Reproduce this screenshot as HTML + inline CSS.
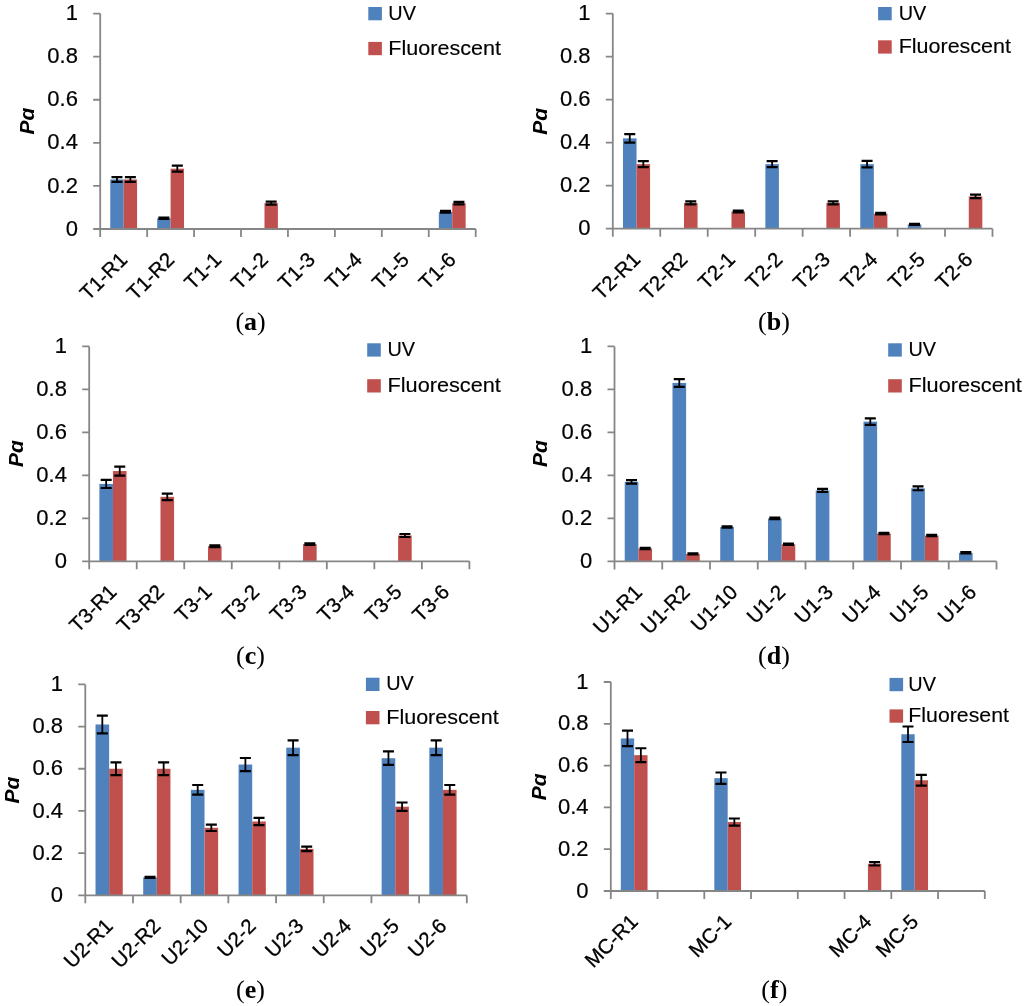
<!DOCTYPE html>
<html><head><meta charset="utf-8"><style>
html,body{margin:0;padding:0;background:#fff;width:1024px;height:1006px;overflow:hidden}
svg{display:block;will-change:transform}
.t{font-family:"Liberation Sans", sans-serif;font-size:21px;fill:#000;stroke:#000;stroke-width:0.15px}
.yl{font-family:"Liberation Sans", sans-serif;font-size:22px;fill:#000;stroke:#000;stroke-width:0.2px}
.xl{font-family:"Liberation Sans", sans-serif;font-size:20.5px;fill:#000;stroke:#000;stroke-width:0.3px}
.pa{font-family:"Liberation Sans", sans-serif;font-size:21px;font-weight:bold;font-style:italic;fill:#000}
.cap{font-family:"Liberation Serif", serif;font-size:26px;fill:#000}
.capb{font-weight:bold}
</style></head><body>
<svg width="1024" height="1006" viewBox="0 0 1024 1006">
<rect width="1024" height="1006" fill="#fff"/>
<rect x="110.26" y="179.46" width="13.41" height="49.54" fill="#4F81BD"/>
<rect x="123.67" y="179.46" width="13.41" height="49.54" fill="#C0504D"/>
<rect x="157.2" y="218.23" width="13.41" height="10.77" fill="#4F81BD"/>
<rect x="170.61" y="168.69" width="13.41" height="60.31" fill="#C0504D"/>
<rect x="264.48" y="203.15" width="13.41" height="25.85" fill="#C0504D"/>
<rect x="438.82" y="211.77" width="13.41" height="17.23" fill="#4F81BD"/>
<rect x="452.23" y="203.15" width="13.41" height="25.85" fill="#C0504D"/>
<path d="M100.2 13.6V229H475.7" fill="none" stroke="#868686" stroke-width="1.8"/>
<path d="M93.2 229H100.2 M93.2 185.92H100.2 M93.2 142.84H100.2 M93.2 99.76H100.2 M93.2 56.68H100.2 M93.2 13.6H100.2 M100.2 229V237 M147.14 229V237 M194.07 229V237 M241.01 229V237 M287.95 229V237 M334.89 229V237 M381.82 229V237 M428.76 229V237 M475.7 229V237" fill="none" stroke="#868686" stroke-width="1.8"/>
<path d="M116.96 177.09V181.83" stroke="#000" stroke-width="1.8"/>
<path d="M111.46 177.09H122.46M111.46 181.83H122.46" stroke="#000" stroke-width="2.2"/>
<path d="M130.37 177.09V181.83" stroke="#000" stroke-width="1.8"/>
<path d="M124.87 177.09H135.87M124.87 181.83H135.87" stroke="#000" stroke-width="2.2"/>
<path d="M163.9 217.58V218.88" stroke="#000" stroke-width="1.8"/>
<path d="M158.4 217.58H169.4M158.4 218.88H169.4" stroke="#000" stroke-width="2.2"/>
<path d="M177.31 165.67V171.7" stroke="#000" stroke-width="1.8"/>
<path d="M171.81 165.67H182.81M171.81 171.7H182.81" stroke="#000" stroke-width="2.2"/>
<path d="M271.19 201.64V204.66" stroke="#000" stroke-width="1.8"/>
<path d="M265.69 201.64H276.69M265.69 204.66H276.69" stroke="#000" stroke-width="2.2"/>
<path d="M445.53 210.91V212.63" stroke="#000" stroke-width="1.8"/>
<path d="M440.03 210.91H451.03M440.03 212.63H451.03" stroke="#000" stroke-width="2.2"/>
<path d="M458.94 201.86V204.44" stroke="#000" stroke-width="1.8"/>
<path d="M453.44 201.86H464.44M453.44 204.44H464.44" stroke="#000" stroke-width="2.2"/>
<text x="77.9" y="235.6" text-anchor="end" class="yl">0</text>
<text x="77.9" y="192.52" text-anchor="end" class="yl">0.2</text>
<text x="77.9" y="149.44" text-anchor="end" class="yl">0.4</text>
<text x="77.9" y="106.36" text-anchor="end" class="yl">0.6</text>
<text x="77.9" y="63.28" text-anchor="end" class="yl">0.8</text>
<text x="77.9" y="20.2" text-anchor="end" class="yl">1</text>
<text transform="translate(123.67 256) rotate(-45)" x="0" y="7" text-anchor="end" class="xl">T1-R1</text>
<text transform="translate(170.61 256) rotate(-45)" x="0" y="7" text-anchor="end" class="xl">T1-R2</text>
<text transform="translate(217.54 256) rotate(-45)" x="0" y="7" text-anchor="end" class="xl">T1-1</text>
<text transform="translate(264.48 256) rotate(-45)" x="0" y="7" text-anchor="end" class="xl">T1-2</text>
<text transform="translate(311.42 256) rotate(-45)" x="0" y="7" text-anchor="end" class="xl">T1-3</text>
<text transform="translate(358.36 256) rotate(-45)" x="0" y="7" text-anchor="end" class="xl">T1-4</text>
<text transform="translate(405.29 256) rotate(-45)" x="0" y="7" text-anchor="end" class="xl">T1-5</text>
<text transform="translate(452.23 256) rotate(-45)" x="0" y="7" text-anchor="end" class="xl">T1-6</text>
<rect x="368.3" y="7" width="13.6" height="13.3" fill="#4F81BD"/>
<rect x="368.3" y="41.9" width="13.6" height="13.3" fill="#C0504D"/>
<text x="388.3" y="19.6" class="t" textLength="27.6" lengthAdjust="spacingAndGlyphs">UV</text>
<text x="388.3" y="54.5" class="t" textLength="112.6" lengthAdjust="spacingAndGlyphs">Fluorescent</text>
<text x="250.6" y="329.7" text-anchor="middle" class="cap">(<tspan class="capb">a</tspan>)</text>
<text transform="translate(27.1 121) rotate(-90)" x="0" y="7.2" text-anchor="middle" class="pa">P&#x251;</text>
<rect x="622.97" y="138.36" width="13.56" height="90.34" fill="#4F81BD"/>
<rect x="636.53" y="164.17" width="13.56" height="64.53" fill="#C0504D"/>
<rect x="683.99" y="202.89" width="13.56" height="25.81" fill="#C0504D"/>
<rect x="731.46" y="211.49" width="13.56" height="17.21" fill="#C0504D"/>
<rect x="765.36" y="164.17" width="13.56" height="64.53" fill="#4F81BD"/>
<rect x="826.38" y="202.89" width="13.56" height="25.81" fill="#C0504D"/>
<rect x="860.28" y="164.17" width="13.56" height="64.53" fill="#4F81BD"/>
<rect x="873.84" y="213.64" width="13.56" height="15.06" fill="#C0504D"/>
<rect x="907.75" y="224.4" width="13.56" height="4.3" fill="#4F81BD"/>
<rect x="968.77" y="196.44" width="13.56" height="32.26" fill="#C0504D"/>
<path d="M612.8 13.6V228.7H992.5" fill="none" stroke="#868686" stroke-width="1.8"/>
<path d="M605.8 228.7H612.8 M605.8 185.68H612.8 M605.8 142.66H612.8 M605.8 99.64H612.8 M605.8 56.62H612.8 M605.8 13.6H612.8 M612.8 228.7V236.7 M660.26 228.7V236.7 M707.72 228.7V236.7 M755.19 228.7V236.7 M802.65 228.7V236.7 M850.11 228.7V236.7 M897.58 228.7V236.7 M945.04 228.7V236.7 M992.5 228.7V236.7" fill="none" stroke="#868686" stroke-width="1.8"/>
<path d="M629.75 134.06V142.66" stroke="#000" stroke-width="1.8"/>
<path d="M624.25 134.06H635.25M624.25 142.66H635.25" stroke="#000" stroke-width="2.2"/>
<path d="M643.31 161.16V167.18" stroke="#000" stroke-width="1.8"/>
<path d="M637.81 161.16H648.81M637.81 167.18H648.81" stroke="#000" stroke-width="2.2"/>
<path d="M690.77 201.38V204.39" stroke="#000" stroke-width="1.8"/>
<path d="M685.27 201.38H696.27M685.27 204.39H696.27" stroke="#000" stroke-width="2.2"/>
<path d="M738.24 210.63V212.35" stroke="#000" stroke-width="1.8"/>
<path d="M732.74 210.63H743.74M732.74 212.35H743.74" stroke="#000" stroke-width="2.2"/>
<path d="M772.14 161.16V167.18" stroke="#000" stroke-width="1.8"/>
<path d="M766.64 161.16H777.64M766.64 167.18H777.64" stroke="#000" stroke-width="2.2"/>
<path d="M833.16 201.38V204.39" stroke="#000" stroke-width="1.8"/>
<path d="M827.66 201.38H838.66M827.66 204.39H838.66" stroke="#000" stroke-width="2.2"/>
<path d="M867.06 160.94V167.4" stroke="#000" stroke-width="1.8"/>
<path d="M861.56 160.94H872.56M861.56 167.4H872.56" stroke="#000" stroke-width="2.2"/>
<path d="M880.62 212.78V214.5" stroke="#000" stroke-width="1.8"/>
<path d="M875.12 212.78H886.12M875.12 214.5H886.12" stroke="#000" stroke-width="2.2"/>
<path d="M914.53 223.97V224.83" stroke="#000" stroke-width="1.8"/>
<path d="M909.03 223.97H920.03M909.03 224.83H920.03" stroke="#000" stroke-width="2.2"/>
<path d="M975.55 194.71V198.16" stroke="#000" stroke-width="1.8"/>
<path d="M970.05 194.71H981.05M970.05 198.16H981.05" stroke="#000" stroke-width="2.2"/>
<text x="590.5" y="235.3" text-anchor="end" class="yl">0</text>
<text x="590.5" y="192.28" text-anchor="end" class="yl">0.2</text>
<text x="590.5" y="149.26" text-anchor="end" class="yl">0.4</text>
<text x="590.5" y="106.24" text-anchor="end" class="yl">0.6</text>
<text x="590.5" y="63.22" text-anchor="end" class="yl">0.8</text>
<text x="590.5" y="20.2" text-anchor="end" class="yl">1</text>
<text transform="translate(636.53 255.7) rotate(-45)" x="0" y="7" text-anchor="end" class="xl">T2-R1</text>
<text transform="translate(683.99 255.7) rotate(-45)" x="0" y="7" text-anchor="end" class="xl">T2-R2</text>
<text transform="translate(731.46 255.7) rotate(-45)" x="0" y="7" text-anchor="end" class="xl">T2-1</text>
<text transform="translate(778.92 255.7) rotate(-45)" x="0" y="7" text-anchor="end" class="xl">T2-2</text>
<text transform="translate(826.38 255.7) rotate(-45)" x="0" y="7" text-anchor="end" class="xl">T2-3</text>
<text transform="translate(873.84 255.7) rotate(-45)" x="0" y="7" text-anchor="end" class="xl">T2-4</text>
<text transform="translate(921.31 255.7) rotate(-45)" x="0" y="7" text-anchor="end" class="xl">T2-5</text>
<text transform="translate(968.77 255.7) rotate(-45)" x="0" y="7" text-anchor="end" class="xl">T2-6</text>
<rect x="878.1" y="7" width="13.6" height="13.3" fill="#4F81BD"/>
<rect x="878.1" y="40.3" width="13.6" height="13.3" fill="#C0504D"/>
<text x="898.7" y="19.6" class="t" textLength="27.6" lengthAdjust="spacingAndGlyphs">UV</text>
<text x="898.7" y="52.9" class="t" textLength="112.3" lengthAdjust="spacingAndGlyphs">Fluorescent</text>
<text x="774" y="329.7" text-anchor="middle" class="cap">(<tspan class="capb">b</tspan>)</text>
<text transform="translate(540.2 121.3) rotate(-90)" x="0" y="7.2" text-anchor="middle" class="pa">P&#x251;</text>
<rect x="99.38" y="483.94" width="13.58" height="77.36" fill="#4F81BD"/>
<rect x="112.96" y="471.04" width="13.58" height="90.26" fill="#C0504D"/>
<rect x="160.49" y="496.83" width="13.58" height="64.47" fill="#C0504D"/>
<rect x="208.01" y="546.26" width="13.58" height="15.04" fill="#C0504D"/>
<rect x="303.06" y="544.11" width="13.58" height="17.19" fill="#C0504D"/>
<rect x="398.11" y="535.51" width="13.58" height="25.79" fill="#C0504D"/>
<path d="M89.2 346.4V561.3H469.4" fill="none" stroke="#868686" stroke-width="1.8"/>
<path d="M82.2 561.3H89.2 M82.2 518.32H89.2 M82.2 475.34H89.2 M82.2 432.36H89.2 M82.2 389.38H89.2 M82.2 346.4H89.2 M89.2 561.3V569.3 M136.72 561.3V569.3 M184.25 561.3V569.3 M231.77 561.3V569.3 M279.3 561.3V569.3 M326.82 561.3V569.3 M374.35 561.3V569.3 M421.88 561.3V569.3 M469.4 561.3V569.3" fill="none" stroke="#868686" stroke-width="1.8"/>
<path d="M106.17 479.85V488.02" stroke="#000" stroke-width="1.8"/>
<path d="M100.67 479.85H111.67M100.67 488.02H111.67" stroke="#000" stroke-width="2.2"/>
<path d="M119.75 466.53V475.55" stroke="#000" stroke-width="1.8"/>
<path d="M114.25 466.53H125.25M114.25 475.55H125.25" stroke="#000" stroke-width="2.2"/>
<path d="M167.28 493.61V500.05" stroke="#000" stroke-width="1.8"/>
<path d="M161.78 493.61H172.78M161.78 500.05H172.78" stroke="#000" stroke-width="2.2"/>
<path d="M214.8 545.4V547.12" stroke="#000" stroke-width="1.8"/>
<path d="M209.3 545.4H220.3M209.3 547.12H220.3" stroke="#000" stroke-width="2.2"/>
<path d="M309.85 543.25V544.97" stroke="#000" stroke-width="1.8"/>
<path d="M304.35 543.25H315.35M304.35 544.97H315.35" stroke="#000" stroke-width="2.2"/>
<path d="M404.9 534.01V537.02" stroke="#000" stroke-width="1.8"/>
<path d="M399.4 534.01H410.4M399.4 537.02H410.4" stroke="#000" stroke-width="2.2"/>
<text x="66.9" y="567.9" text-anchor="end" class="yl">0</text>
<text x="66.9" y="524.92" text-anchor="end" class="yl">0.2</text>
<text x="66.9" y="481.94" text-anchor="end" class="yl">0.4</text>
<text x="66.9" y="438.96" text-anchor="end" class="yl">0.6</text>
<text x="66.9" y="395.98" text-anchor="end" class="yl">0.8</text>
<text x="66.9" y="353" text-anchor="end" class="yl">1</text>
<text transform="translate(112.96 588.3) rotate(-45)" x="0" y="7" text-anchor="end" class="xl">T3-R1</text>
<text transform="translate(160.49 588.3) rotate(-45)" x="0" y="7" text-anchor="end" class="xl">T3-R2</text>
<text transform="translate(208.01 588.3) rotate(-45)" x="0" y="7" text-anchor="end" class="xl">T3-1</text>
<text transform="translate(255.54 588.3) rotate(-45)" x="0" y="7" text-anchor="end" class="xl">T3-2</text>
<text transform="translate(303.06 588.3) rotate(-45)" x="0" y="7" text-anchor="end" class="xl">T3-3</text>
<text transform="translate(350.59 588.3) rotate(-45)" x="0" y="7" text-anchor="end" class="xl">T3-4</text>
<text transform="translate(398.11 588.3) rotate(-45)" x="0" y="7" text-anchor="end" class="xl">T3-5</text>
<text transform="translate(445.64 588.3) rotate(-45)" x="0" y="7" text-anchor="end" class="xl">T3-6</text>
<rect x="367.2" y="343.3" width="13.6" height="13.3" fill="#4F81BD"/>
<rect x="367.2" y="379.2" width="13.6" height="13.3" fill="#C0504D"/>
<text x="387.5" y="355.9" class="t" textLength="27.6" lengthAdjust="spacingAndGlyphs">UV</text>
<text x="387.5" y="391.8" class="t" textLength="113.4" lengthAdjust="spacingAndGlyphs">Fluorescent</text>
<text x="250.4" y="663.8" text-anchor="middle" class="cap">(<tspan class="capb">c</tspan>)</text>
<text transform="translate(15.5 453.7) rotate(-90)" x="0" y="7.2" text-anchor="middle" class="pa">P&#x251;</text>
<rect x="624.73" y="481.85" width="13.64" height="79.55" fill="#4F81BD"/>
<rect x="638.38" y="548.5" width="13.64" height="12.9" fill="#C0504D"/>
<rect x="672.48" y="382.95" width="13.64" height="178.45" fill="#4F81BD"/>
<rect x="686.12" y="553.88" width="13.64" height="7.52" fill="#C0504D"/>
<rect x="720.23" y="527" width="13.64" height="34.4" fill="#4F81BD"/>
<rect x="767.98" y="518.4" width="13.64" height="43" fill="#4F81BD"/>
<rect x="781.62" y="544.2" width="13.64" height="17.2" fill="#C0504D"/>
<rect x="815.73" y="490.45" width="13.64" height="70.95" fill="#4F81BD"/>
<rect x="863.48" y="421.65" width="13.64" height="139.75" fill="#4F81BD"/>
<rect x="877.12" y="533.45" width="13.64" height="27.95" fill="#C0504D"/>
<rect x="911.23" y="488.3" width="13.64" height="73.1" fill="#4F81BD"/>
<rect x="924.88" y="535.6" width="13.64" height="25.8" fill="#C0504D"/>
<rect x="958.98" y="552.8" width="13.64" height="8.6" fill="#4F81BD"/>
<path d="M614.5 346.4V561.4H996.5" fill="none" stroke="#868686" stroke-width="1.8"/>
<path d="M607.5 561.4H614.5 M607.5 518.4H614.5 M607.5 475.4H614.5 M607.5 432.4H614.5 M607.5 389.4H614.5 M607.5 346.4H614.5 M614.5 561.4V569.4 M662.25 561.4V569.4 M710 561.4V569.4 M757.75 561.4V569.4 M805.5 561.4V569.4 M853.25 561.4V569.4 M901 561.4V569.4 M948.75 561.4V569.4 M996.5 561.4V569.4" fill="none" stroke="#868686" stroke-width="1.8"/>
<path d="M631.55 480.13V483.57" stroke="#000" stroke-width="1.8"/>
<path d="M626.05 480.13H637.05M626.05 483.57H637.05" stroke="#000" stroke-width="2.2"/>
<path d="M645.2 547.86V549.14" stroke="#000" stroke-width="1.8"/>
<path d="M639.7 547.86H650.7M639.7 549.14H650.7" stroke="#000" stroke-width="2.2"/>
<path d="M679.3 379.08V386.82" stroke="#000" stroke-width="1.8"/>
<path d="M673.8 379.08H684.8M673.8 386.82H684.8" stroke="#000" stroke-width="2.2"/>
<path d="M692.95 553.23V554.52" stroke="#000" stroke-width="1.8"/>
<path d="M687.45 553.23H698.45M687.45 554.52H698.45" stroke="#000" stroke-width="2.2"/>
<path d="M727.05 526.36V527.64" stroke="#000" stroke-width="1.8"/>
<path d="M721.55 526.36H732.55M721.55 527.64H732.55" stroke="#000" stroke-width="2.2"/>
<path d="M774.8 517.54V519.26" stroke="#000" stroke-width="1.8"/>
<path d="M769.3 517.54H780.3M769.3 519.26H780.3" stroke="#000" stroke-width="2.2"/>
<path d="M788.45 543.55V544.85" stroke="#000" stroke-width="1.8"/>
<path d="M782.95 543.55H793.95M782.95 544.85H793.95" stroke="#000" stroke-width="2.2"/>
<path d="M822.55 488.94V491.95" stroke="#000" stroke-width="1.8"/>
<path d="M817.05 488.94H828.05M817.05 491.95H828.05" stroke="#000" stroke-width="2.2"/>
<path d="M870.3 418.42V424.88" stroke="#000" stroke-width="1.8"/>
<path d="M864.8 418.42H875.8M864.8 424.88H875.8" stroke="#000" stroke-width="2.2"/>
<path d="M883.95 532.8V534.1" stroke="#000" stroke-width="1.8"/>
<path d="M878.45 532.8H889.45M878.45 534.1H889.45" stroke="#000" stroke-width="2.2"/>
<path d="M918.05 486.36V490.23" stroke="#000" stroke-width="1.8"/>
<path d="M912.55 486.36H923.55M912.55 490.23H923.55" stroke="#000" stroke-width="2.2"/>
<path d="M931.7 534.95V536.25" stroke="#000" stroke-width="1.8"/>
<path d="M926.2 534.95H937.2M926.2 536.25H937.2" stroke="#000" stroke-width="2.2"/>
<path d="M965.8 552.15V553.44" stroke="#000" stroke-width="1.8"/>
<path d="M960.3 552.15H971.3M960.3 553.44H971.3" stroke="#000" stroke-width="2.2"/>
<text x="592.2" y="568" text-anchor="end" class="yl">0</text>
<text x="592.2" y="525" text-anchor="end" class="yl">0.2</text>
<text x="592.2" y="482" text-anchor="end" class="yl">0.4</text>
<text x="592.2" y="439" text-anchor="end" class="yl">0.6</text>
<text x="592.2" y="396" text-anchor="end" class="yl">0.8</text>
<text x="592.2" y="353" text-anchor="end" class="yl">1</text>
<text transform="translate(638.38 588.4) rotate(-45)" x="0" y="7" text-anchor="end" class="xl">U1-R1</text>
<text transform="translate(686.12 588.4) rotate(-45)" x="0" y="7" text-anchor="end" class="xl">U1-R2</text>
<text transform="translate(733.88 588.4) rotate(-45)" x="0" y="7" text-anchor="end" class="xl">U1-10</text>
<text transform="translate(781.62 588.4) rotate(-45)" x="0" y="7" text-anchor="end" class="xl">U1-2</text>
<text transform="translate(829.38 588.4) rotate(-45)" x="0" y="7" text-anchor="end" class="xl">U1-3</text>
<text transform="translate(877.12 588.4) rotate(-45)" x="0" y="7" text-anchor="end" class="xl">U1-4</text>
<text transform="translate(924.88 588.4) rotate(-45)" x="0" y="7" text-anchor="end" class="xl">U1-5</text>
<text transform="translate(972.62 588.4) rotate(-45)" x="0" y="7" text-anchor="end" class="xl">U1-6</text>
<rect x="888.2" y="343.3" width="13.6" height="13.3" fill="#4F81BD"/>
<rect x="888.2" y="379.2" width="13.6" height="13.3" fill="#C0504D"/>
<text x="908.5" y="355.9" class="t" textLength="27.6" lengthAdjust="spacingAndGlyphs">UV</text>
<text x="908.5" y="391.8" class="t" textLength="113.4" lengthAdjust="spacingAndGlyphs">Fluorescent</text>
<text x="774" y="663.8" text-anchor="middle" class="cap">(<tspan class="capb">d</tspan>)</text>
<text transform="translate(540.2 453.7) rotate(-90)" x="0" y="7.2" text-anchor="middle" class="pa">P&#x251;</text>
<rect x="95.52" y="724.47" width="13.62" height="170.83" fill="#4F81BD"/>
<rect x="109.14" y="768.76" width="13.62" height="126.54" fill="#C0504D"/>
<rect x="143.21" y="877.37" width="13.62" height="17.93" fill="#4F81BD"/>
<rect x="156.83" y="768.76" width="13.62" height="126.54" fill="#C0504D"/>
<rect x="190.89" y="789.85" width="13.62" height="105.45" fill="#4F81BD"/>
<rect x="204.52" y="827.81" width="13.62" height="67.49" fill="#C0504D"/>
<rect x="238.58" y="764.54" width="13.62" height="130.76" fill="#4F81BD"/>
<rect x="252.21" y="821.49" width="13.62" height="73.81" fill="#C0504D"/>
<rect x="286.27" y="747.67" width="13.62" height="147.63" fill="#4F81BD"/>
<rect x="299.89" y="848.9" width="13.62" height="46.4" fill="#C0504D"/>
<rect x="381.64" y="758.21" width="13.62" height="137.09" fill="#4F81BD"/>
<rect x="395.27" y="806.72" width="13.62" height="88.58" fill="#C0504D"/>
<rect x="429.33" y="747.67" width="13.62" height="147.63" fill="#4F81BD"/>
<rect x="442.96" y="789.85" width="13.62" height="105.45" fill="#C0504D"/>
<path d="M85.3 684.4V895.3H466.8" fill="none" stroke="#868686" stroke-width="1.8"/>
<path d="M78.3 895.3H85.3 M78.3 853.12H85.3 M78.3 810.94H85.3 M78.3 768.76H85.3 M78.3 726.58H85.3 M78.3 684.4H85.3 M85.3 895.3V903.3 M132.99 895.3V903.3 M180.68 895.3V903.3 M228.36 895.3V903.3 M276.05 895.3V903.3 M323.74 895.3V903.3 M371.43 895.3V903.3 M419.11 895.3V903.3 M466.8 895.3V903.3" fill="none" stroke="#868686" stroke-width="1.8"/>
<path d="M102.33 715.61V733.33" stroke="#000" stroke-width="1.8"/>
<path d="M96.83 715.61H107.83M96.83 733.33H107.83" stroke="#000" stroke-width="2.2"/>
<path d="M115.96 762.43V775.09" stroke="#000" stroke-width="1.8"/>
<path d="M110.46 762.43H121.46M110.46 775.09H121.46" stroke="#000" stroke-width="2.2"/>
<path d="M150.02 876.74V878.01" stroke="#000" stroke-width="1.8"/>
<path d="M144.52 876.74H155.52M144.52 878.01H155.52" stroke="#000" stroke-width="2.2"/>
<path d="M163.64 762.43V775.09" stroke="#000" stroke-width="1.8"/>
<path d="M158.14 762.43H169.14M158.14 775.09H169.14" stroke="#000" stroke-width="2.2"/>
<path d="M197.71 785V794.7" stroke="#000" stroke-width="1.8"/>
<path d="M192.21 785H203.21M192.21 794.7H203.21" stroke="#000" stroke-width="2.2"/>
<path d="M211.33 824.65V830.98" stroke="#000" stroke-width="1.8"/>
<path d="M205.83 824.65H216.83M205.83 830.98H216.83" stroke="#000" stroke-width="2.2"/>
<path d="M245.39 758V771.08" stroke="#000" stroke-width="1.8"/>
<path d="M239.89 758H250.89M239.89 771.08H250.89" stroke="#000" stroke-width="2.2"/>
<path d="M259.02 817.9V825.07" stroke="#000" stroke-width="1.8"/>
<path d="M253.52 817.9H264.52M253.52 825.07H264.52" stroke="#000" stroke-width="2.2"/>
<path d="M293.08 740.29V755.05" stroke="#000" stroke-width="1.8"/>
<path d="M287.58 740.29H298.58M287.58 755.05H298.58" stroke="#000" stroke-width="2.2"/>
<path d="M306.71 846.58V851.22" stroke="#000" stroke-width="1.8"/>
<path d="M301.21 846.58H312.21M301.21 851.22H312.21" stroke="#000" stroke-width="2.2"/>
<path d="M388.46 751.47V764.96" stroke="#000" stroke-width="1.8"/>
<path d="M382.96 751.47H393.96M382.96 764.96H393.96" stroke="#000" stroke-width="2.2"/>
<path d="M402.08 802.5V810.94" stroke="#000" stroke-width="1.8"/>
<path d="M396.58 802.5H407.58M396.58 810.94H407.58" stroke="#000" stroke-width="2.2"/>
<path d="M436.14 740.29V755.05" stroke="#000" stroke-width="1.8"/>
<path d="M430.64 740.29H441.64M430.64 755.05H441.64" stroke="#000" stroke-width="2.2"/>
<path d="M449.77 785V794.7" stroke="#000" stroke-width="1.8"/>
<path d="M444.27 785H455.27M444.27 794.7H455.27" stroke="#000" stroke-width="2.2"/>
<text x="63" y="901.9" text-anchor="end" class="yl">0</text>
<text x="63" y="859.72" text-anchor="end" class="yl">0.2</text>
<text x="63" y="817.54" text-anchor="end" class="yl">0.4</text>
<text x="63" y="775.36" text-anchor="end" class="yl">0.6</text>
<text x="63" y="733.18" text-anchor="end" class="yl">0.8</text>
<text x="63" y="691" text-anchor="end" class="yl">1</text>
<text transform="translate(109.14 922.3) rotate(-45)" x="0" y="7" text-anchor="end" class="xl">U2-R1</text>
<text transform="translate(156.83 922.3) rotate(-45)" x="0" y="7" text-anchor="end" class="xl">U2-R2</text>
<text transform="translate(204.52 922.3) rotate(-45)" x="0" y="7" text-anchor="end" class="xl">U2-10</text>
<text transform="translate(252.21 922.3) rotate(-45)" x="0" y="7" text-anchor="end" class="xl">U2-2</text>
<text transform="translate(299.89 922.3) rotate(-45)" x="0" y="7" text-anchor="end" class="xl">U2-3</text>
<text transform="translate(347.58 922.3) rotate(-45)" x="0" y="7" text-anchor="end" class="xl">U2-4</text>
<text transform="translate(395.27 922.3) rotate(-45)" x="0" y="7" text-anchor="end" class="xl">U2-5</text>
<text transform="translate(442.96 922.3) rotate(-45)" x="0" y="7" text-anchor="end" class="xl">U2-6</text>
<rect x="365.9" y="677.7" width="13.6" height="13.3" fill="#4F81BD"/>
<rect x="365.9" y="711" width="13.6" height="13.3" fill="#C0504D"/>
<text x="386.25" y="690.3" class="t" textLength="27.6" lengthAdjust="spacingAndGlyphs">UV</text>
<text x="386.25" y="723.6" class="t" textLength="112.4" lengthAdjust="spacingAndGlyphs">Fluorescent</text>
<text x="250.4" y="998" text-anchor="middle" class="cap">(<tspan class="capb">e</tspan>)</text>
<text transform="translate(12 790) rotate(-90)" x="0" y="7.2" text-anchor="middle" class="pa">P&#x251;</text>
<rect x="620.82" y="738.43" width="13.36" height="152.57" fill="#4F81BD"/>
<rect x="634.17" y="755.15" width="13.36" height="135.85" fill="#C0504D"/>
<rect x="714.32" y="778.14" width="13.36" height="112.86" fill="#4F81BD"/>
<rect x="727.67" y="822.03" width="13.36" height="68.97" fill="#C0504D"/>
<rect x="867.92" y="863.83" width="13.36" height="27.17" fill="#C0504D"/>
<rect x="901.32" y="734.25" width="13.36" height="156.75" fill="#4F81BD"/>
<rect x="914.67" y="780.23" width="13.36" height="110.77" fill="#C0504D"/>
<path d="M610.8 682V891H984.8" fill="none" stroke="#868686" stroke-width="1.8"/>
<path d="M603.8 891H610.8 M603.8 849.2H610.8 M603.8 807.4H610.8 M603.8 765.6H610.8 M603.8 723.8H610.8 M603.8 682H610.8 M610.8 891V899 M657.55 891V899 M704.3 891V899 M751.05 891V899 M797.8 891V899 M844.55 891V899 M891.3 891V899 M938.05 891V899 M984.8 891V899" fill="none" stroke="#868686" stroke-width="1.8"/>
<path d="M627.5 730.7V746.16" stroke="#000" stroke-width="1.8"/>
<path d="M622 730.7H633M622 746.16H633" stroke="#000" stroke-width="2.2"/>
<path d="M640.85 748.25V762.05" stroke="#000" stroke-width="1.8"/>
<path d="M635.35 748.25H646.35M635.35 762.05H646.35" stroke="#000" stroke-width="2.2"/>
<path d="M721 772.5V783.78" stroke="#000" stroke-width="1.8"/>
<path d="M715.5 772.5H726.5M715.5 783.78H726.5" stroke="#000" stroke-width="2.2"/>
<path d="M734.35 818.48V825.58" stroke="#000" stroke-width="1.8"/>
<path d="M728.85 818.48H739.85M728.85 825.58H739.85" stroke="#000" stroke-width="2.2"/>
<path d="M874.6 862.16V865.5" stroke="#000" stroke-width="1.8"/>
<path d="M869.1 862.16H880.1M869.1 865.5H880.1" stroke="#000" stroke-width="2.2"/>
<path d="M908 726.52V741.98" stroke="#000" stroke-width="1.8"/>
<path d="M902.5 726.52H913.5M902.5 741.98H913.5" stroke="#000" stroke-width="2.2"/>
<path d="M921.35 774.8V785.66" stroke="#000" stroke-width="1.8"/>
<path d="M915.85 774.8H926.85M915.85 785.66H926.85" stroke="#000" stroke-width="2.2"/>
<text x="588.5" y="897.6" text-anchor="end" class="yl">0</text>
<text x="588.5" y="855.8" text-anchor="end" class="yl">0.2</text>
<text x="588.5" y="814" text-anchor="end" class="yl">0.4</text>
<text x="588.5" y="772.2" text-anchor="end" class="yl">0.6</text>
<text x="588.5" y="730.4" text-anchor="end" class="yl">0.8</text>
<text x="588.5" y="688.6" text-anchor="end" class="yl">1</text>
<text transform="translate(634.17 918) rotate(-45)" x="0" y="7" text-anchor="end" class="xl">MC-R1</text>
<text transform="translate(727.67 918) rotate(-45)" x="0" y="7" text-anchor="end" class="xl">MC-1</text>
<text transform="translate(867.92 918) rotate(-45)" x="0" y="7" text-anchor="end" class="xl">MC-4</text>
<text transform="translate(914.67 918) rotate(-45)" x="0" y="7" text-anchor="end" class="xl">MC-5</text>
<rect x="889.5" y="677.9" width="13.6" height="13.3" fill="#4F81BD"/>
<rect x="889.5" y="709.4" width="13.6" height="13.3" fill="#C0504D"/>
<text x="908.3" y="690.5" class="t" textLength="27.6" lengthAdjust="spacingAndGlyphs">UV</text>
<text x="908.3" y="722" class="t" textLength="100.6" lengthAdjust="spacingAndGlyphs">Fluoresent</text>
<text x="774.3" y="998" text-anchor="middle" class="cap">(<tspan class="capb">f</tspan>)</text>
<text transform="translate(539.2 786.8) rotate(-90)" x="0" y="7.2" text-anchor="middle" class="pa">P&#x251;</text>
</svg>
</body></html>
